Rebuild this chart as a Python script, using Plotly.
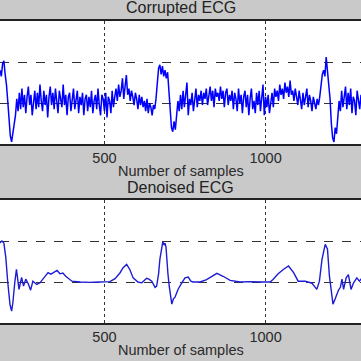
import plotly.graph_objects as go

# ---- data ----
corrupted_start = 176
corrupted_step = 4
corrupted = [
    0.80, 0.65, 0.95, 1.03, 0.70, 0.45, 0.05, -0.45, -0.80, -0.95,
    -0.70, -0.55, -0.30, 0.10, -0.20, 0.25, -0.15, 0.35, -0.10, 0.20,
    -0.25, 0.15, 0.40, -0.05, 0.20, -0.30, 0.10, 0.30, -0.15, 0.25,
    -0.10, 0.45, 0.05, -0.20, 0.30, -0.05, 0.20, -0.35, 0.15, 0.40,
    -0.05, 0.25, -0.15, 0.35, 0.05, -0.25, 0.30, 0.10, -0.10, 0.45,
    -0.05, 0.20, -0.30, 0.15, 0.25, -0.20, 0.10, 0.35, -0.15, 0.05,
    0.30, -0.25, 0.15, -0.05, 0.25, -0.30, 0.10, 0.20, -0.20, 0.15,
    -0.10, 0.30, -0.25, 0.05, 0.20, -0.15, 0.35, -0.05, -0.30, 0.20,
    0.10, -0.20, 0.25, -0.35, 0.15, 0.05, -0.25, 0.30, -0.10, 0.15,
    0.35, 0.05, 0.45, 0.15, 0.30, 0.60, 0.10, 0.40, 0.68, 0.20,
    0.35, 0.05, 0.30, 0.15, -0.05, 0.25, 0.10, -0.15, 0.20, -0.05,
    0.15, -0.10, 0.05, -0.20, 0.10, -0.25, 0.00, -0.10, -0.30, -0.05,
    -0.15, 0.10, 0.45, 0.85, 0.93, 0.70, 0.90, 0.65, 0.80, 0.60,
    0.75, 0.30, -0.30, -0.60, -0.70, -0.45, -0.65, -0.25, 0.05, -0.20,
    0.20, -0.15, 0.30, -0.10, 0.15, 0.50, -0.30, 0.10, -0.05, 0.25,
    -0.20, 0.05, 0.35, -0.10, 0.20, 0.05, 0.30, -0.05, 0.25, 0.10,
    0.35, -0.05, 0.20, 0.40, 0.05, 0.30, -0.10, 0.35, 0.15, 0.25,
    0.05, 0.40, 0.10, 0.30, -0.10, 0.25, 0.35, -0.05, 0.20, 0.05,
    0.30, -0.15, 0.25, 0.10, -0.20, 0.35, 0.00, 0.20, -0.25, 0.15,
    0.30, -0.10, 0.20, -0.30, 0.10, 0.35, -0.15, 0.05, -0.25, 0.25,
    -0.05, 0.30, -0.20, 0.10, 0.45, -0.30, 0.15, -0.10, 0.20, -0.25,
    0.10, 0.25, -0.10, 0.35, 0.15, 0.30, 0.05, 0.45, 0.20, 0.35,
    0.10, 0.50, 0.25, 0.40, 0.15, 0.55, 0.20, 0.30, 0.05, 0.35,
    0.15, -0.05, 0.30, 0.10, -0.15, 0.25, -0.05, 0.15, 0.35, -0.10,
    0.20, 0.05, -0.20, 0.15, 0.00, -0.15, 0.10, -0.05, 0.15, 0.45,
    0.70, 0.80, 0.65, 1.12, 0.75, 0.55, 0.10, -0.50, -0.85, -0.95,
    -0.60, -0.75, -0.30, 0.05, -0.20, 0.30, -0.10, 0.20, 0.40, -0.15,
    0.25, -0.05, 0.35, -0.25, 0.15, 0.05, -0.30, 0.30, 0.10, -0.15,
    0.20,
]
corrupted_x = [corrupted_start + corrupted_step * i for i in range(len(corrupted))]

denoised_x = [175, 182, 188, 194, 200, 207, 212, 216, 222, 227, 235, 243, 249, 256, 264,
              271, 278, 290, 300, 309, 325, 334, 343, 353, 362, 371, 380, 387, 399, 424,
              455, 486, 517, 533, 548, 558, 569, 579, 589, 604, 616, 631, 638, 647, 657,
              662, 668, 672, 681, 685, 688, 691, 693, 697, 701, 709, 714, 719, 724, 729,
              740, 750, 760, 768, 775, 797, 817, 834, 849, 868, 890, 921, 952, 983, 1014,
              1023, 1039, 1056, 1071, 1087, 1101, 1123, 1144, 1151, 1159, 1167, 1175, 1185, 1192, 1198,
              1204, 1209, 1216, 1226, 1232, 1237, 1242, 1250, 1257, 1265, 1273, 1283, 1291, 1297]
denoised = [0.95, 1.0, 0.95, 0.6, 0.0, -0.55, -0.71, -0.5, 0.0, 0.31, -0.18, 0.11, -0.1, 0.07, -0.05,
            -0.2, 0.02, -0.06, -0.02, 0.07, 0.23, 0.19, 0.24, 0.28, 0.2, 0.22, 0.14, 0.1, 0.02, 0.0,
            -0.01, 0.0, 0.01, 0.08, 0.22, 0.35, 0.43, 0.3, 0.1, 0.0, -0.02, 0.09, 0.07, 0.02, -0.13,
            -0.1, 0.2, 0.55, 0.98, 0.9, 0.95, 0.85, 0.55, 0.2, -0.1, -0.54, -0.41, -0.37, -0.27, -0.17,
            -0.02, 0.1, 0.12, 0.02, 0.0, 0.0, 0.06, 0.15, 0.21, 0.14, 0.04, 0.0, 0.01, 0.0, 0.0,
            0.06, 0.2, 0.31, 0.39, 0.23, 0.02, 0.02, -0.03, -0.1, -0.18, 0.02, 0.55, 0.92, 0.8, 0.15,
            -0.25, -0.54, -0.41, -0.2, -0.13, 0.07, -0.18, 0.1, 0.18, -0.18, -0.02, 0.1, 0.02, 0.08]

x_ticks = [500, 1000]
x_tick_labels = ["500", "1000"]
titles = ["Corrupted ECG", "Denoised ECG"]
x_label = "Number of samples"

# ---- figure ----
H = 361.0
def py(p):
    return 1 - p / H

fig = go.Figure()
fig.add_trace(go.Scatter(x=corrupted_x, y=corrupted, mode="lines",
                         line=dict(color="#0000ff", width=1.5), xaxis="x", yaxis="y",
                         showlegend=False))
fig.add_trace(go.Scatter(x=denoised_x, y=denoised, mode="lines",
                         line=dict(color="#1c1cd4", width=1.4), xaxis="x2", yaxis="y2",
                         showlegend=False))

font = dict(family="Liberation Sans, Arial, sans-serif", size=14.5, color="#2a2a2a")
tfont = dict(family="Liberation Sans, Arial, sans-serif", size=16, color="#222222")
xcommon = dict(range=[176, 1296], tickvals=x_ticks, ticktext=x_tick_labels,
               showgrid=True, gridcolor="#333333", griddash="dot", gridwidth=1,
               showline=True, mirror=True, linecolor="#222222", linewidth=2,
               ticks="", zeroline=False, tickfont=font, domain=[0, 1], fixedrange=True)
ycommon = dict(range=[-1, 2], tickvals=[0, 1], showticklabels=False,
               showgrid=True, gridcolor="#333333", griddash="dash", gridwidth=1,
               showline=False, ticks="", zeroline=False, fixedrange=True)

fig.update_layout(
    width=361, height=361,
    margin=dict(l=0, r=0, t=0, b=0),
    paper_bgcolor="#c9c9c9", plot_bgcolor="#ffffff",
    xaxis=dict(**xcommon, anchor="y"),
    yaxis=dict(**ycommon, domain=[py(144), py(21)], anchor="x"),
    xaxis2=dict(**xcommon, anchor="y2"),
    yaxis2=dict(**ycommon, domain=[py(323), py(200)], anchor="x2"),
    annotations=[
        dict(text=titles[0], x=0.5, y=py(7.5), xref="paper", yref="paper",
             showarrow=False, font=tfont, xanchor="center", yanchor="middle"),
        dict(text=x_label, x=0.5, y=py(171), xref="paper", yref="paper",
             showarrow=False, font=font, xanchor="center", yanchor="middle"),
        dict(text=titles[1], x=0.5, y=py(187), xref="paper", yref="paper",
             showarrow=False, font=tfont, xanchor="center", yanchor="middle"),
        dict(text=x_label, x=0.5, y=py(349.5), xref="paper", yref="paper",
             showarrow=False, font=font, xanchor="center", yanchor="middle"),
    ],
)

fig.write_html("out.html", config={"displayModeBar": False},
               post_script="document.body.style.margin='0';document.body.style.overflow='hidden';document.body.style.background='#c9c9c9';")
